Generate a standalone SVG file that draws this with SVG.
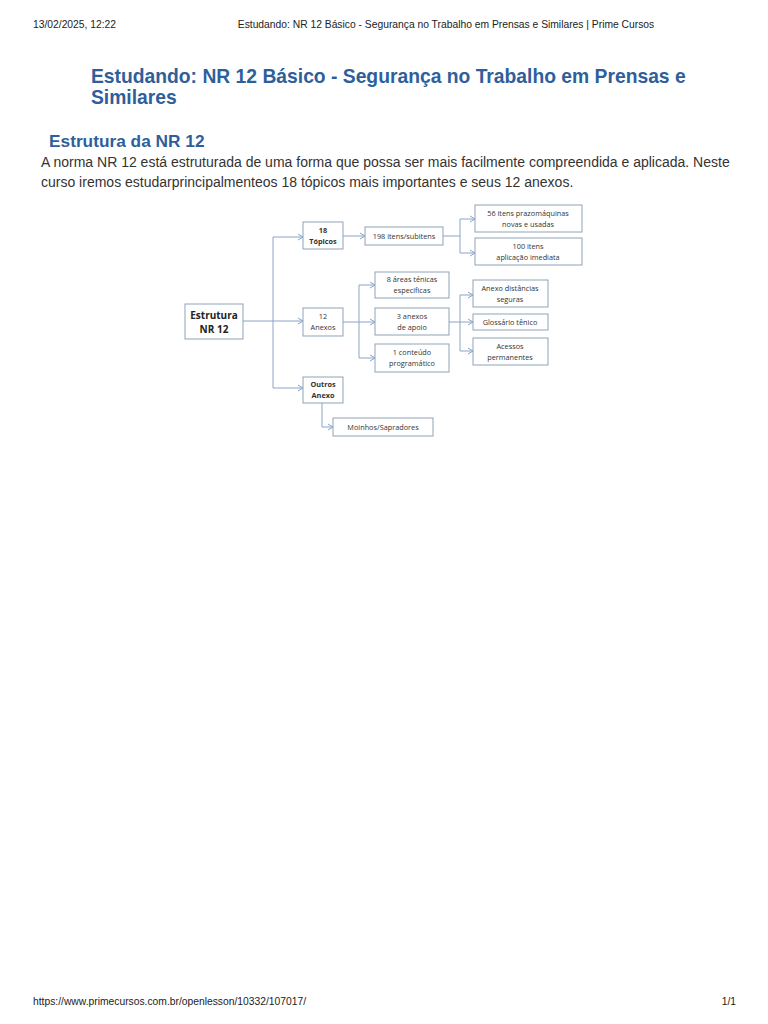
<svg xmlns="http://www.w3.org/2000/svg" width="768" height="1024" viewBox="0 0 768 1024">
<style>
.hdr{font-family:"Liberation Sans",Arial,sans-serif;font-size:10.3px;fill:#222}
.title{font-family:"Liberation Sans",Arial,sans-serif;font-weight:bold;font-size:19.3px;fill:#2f5f9b}
.sub{font-family:"Liberation Sans",Arial,sans-serif;font-weight:bold;font-size:17.3px;fill:#2f5f9b}
.para{font-family:"Liberation Sans",Arial,sans-serif;font-size:14px;fill:#333}
.box{fill:#fff;stroke:#8fa3b8;stroke-width:1}
.t{font-family:"Open Sans","Liberation Sans",sans-serif;font-size:7.3px;fill:#333;text-anchor:middle}
.tb{font-family:"Open Sans","Liberation Sans",sans-serif;font-size:7.3px;font-weight:bold;fill:#333;text-anchor:middle}
.tbig{font-family:"Open Sans","Liberation Sans",sans-serif;font-size:10px;font-weight:bold;fill:#222;text-anchor:middle}
.c{fill:none;stroke:#88a4c6;stroke-width:1}
</style>
<defs>
<marker id="arr" markerWidth="8" markerHeight="8" refX="6" refY="4" orient="auto" markerUnits="userSpaceOnUse">
<polyline points="1,1 6,4 1,7" fill="none" stroke="#88a4c6" stroke-width="1"/>
</marker>
</defs>
<rect width="768" height="1024" fill="#fff"/>
<text class="hdr" x="33" y="28">13/02/2025, 12:22</text>
<text class="hdr" x="446" y="28" text-anchor="middle">Estudando: NR 12 Básico - Segurança no Trabalho em Prensas e Similares | Prime Cursos</text>
<text class="title" x="91" y="83">Estudando: NR 12 Básico - Segurança no Trabalho em Prensas e</text>
<text class="title" x="91" y="104">Similares</text>
<text class="sub" x="49" y="147">Estrutura da NR 12</text>
<text class="para" x="41" y="167">A norma NR 12 está estruturada de uma forma que possa ser mais facilmente compreendida e aplicada. Neste</text>
<text class="para" x="41" y="187">curso iremos estudarprincipalmenteos 18 tópicos mais importantes e seus 12 anexos.</text>

<g id="connectors">
<path class="c" d="M243,321 H303" marker-end="url(#arr)"/>
<path class="c" d="M273,388 V237 H303" marker-end="url(#arr)"/>
<path class="c" d="M273,388 H303" marker-end="url(#arr)"/>
<path class="c" d="M343,236 H365" marker-end="url(#arr)"/>
<path class="c" d="M443,236 H460 V219 H475" marker-end="url(#arr)"/>
<path class="c" d="M460,236 V253 H475" marker-end="url(#arr)"/>
<path class="c" d="M343,322 H375" marker-end="url(#arr)"/>
<path class="c" d="M359,322 V285 H375" marker-end="url(#arr)"/>
<path class="c" d="M359,322 V358 H375" marker-end="url(#arr)"/>
<path class="c" d="M449,322 H473" marker-end="url(#arr)"/>
<path class="c" d="M460,322 V295 H473" marker-end="url(#arr)"/>
<path class="c" d="M460,322 V351 H473" marker-end="url(#arr)"/>
<path class="c" d="M322,403 V427 H333" marker-end="url(#arr)"/>
</g>

<g id="n-estrutura"><rect class="box" x="185" y="304" width="58" height="35"/><text class="tbig" x="214" y="319">Estrutura</text><text class="tbig" x="214" y="333">NR 12</text></g>
<g id="n-topicos"><rect class="box" x="303" y="222" width="40" height="27"/><text class="tb" x="323" y="233">18</text><text class="tb" x="323" y="244">Tópicos</text></g>
<g id="n-anexos"><rect class="box" x="303" y="308" width="40" height="28"/><text class="t" x="323" y="319">12</text><text class="t" x="323" y="330">Anexos</text></g>
<g id="n-outros"><rect class="box" x="303" y="377" width="40" height="26"/><text class="tb" x="323" y="387">Outros</text><text class="tb" x="323" y="398">Anexo</text></g>
<g id="n-moinhos"><rect class="box" x="333" y="418" width="100" height="18"/><text class="t" x="383" y="430">Moinhos/Sapradores</text></g>
<g id="n-198"><rect class="box" x="365" y="227" width="78" height="18"/><text class="t" x="404" y="239">198 itens/subitens</text></g>
<g id="n-56"><rect class="box" x="475" y="205" width="107" height="27"/><text class="t" x="528" y="216">56 itens prazomáquinas</text><text class="t" x="528" y="227">novas e usadas</text></g>
<g id="n-100"><rect class="box" x="475" y="238" width="107" height="27"/><text class="t" x="528" y="249">100  itens</text><text class="t" x="528" y="260">aplicação imediata</text></g>
<g id="n-8areas"><rect class="box" x="375" y="272" width="74" height="26"/><text class="t" x="412" y="282">8 áreas ténicas</text><text class="t" x="412" y="293">especificas</text></g>
<g id="n-3anexos"><rect class="box" x="375" y="308" width="74" height="27"/><text class="t" x="412" y="319">3 anexos</text><text class="t" x="412" y="330">de apoio</text></g>
<g id="n-1conteudo"><rect class="box" x="375" y="344" width="74" height="28"/><text class="t" x="412" y="355">1 conteúdo</text><text class="t" x="412" y="366">programático</text></g>
<g id="n-distancias"><rect class="box" x="473" y="280" width="75" height="27"/><text class="t" x="510" y="291">Anexo distâncias</text><text class="t" x="510" y="302">seguras</text></g>
<g id="n-glossario"><rect class="box" x="473" y="314" width="75" height="16"/><text class="t" x="510" y="325">Glossário tênico</text></g>
<g id="n-acessos"><rect class="box" x="473" y="338" width="75" height="27"/><text class="t" x="510" y="349">Acessos</text><text class="t" x="510" y="360">permanentes</text></g>

<text class="hdr" x="33" y="1005">https://www.primecursos.com.br/openlesson/10332/107017/</text>
<text class="hdr" x="736" y="1005" text-anchor="end">1/1</text>
</svg>
